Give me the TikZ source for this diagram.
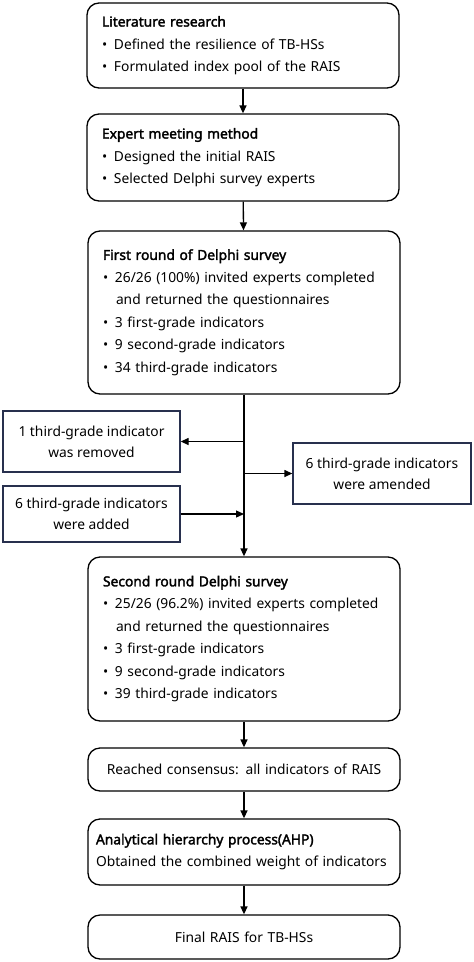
\documentclass[tikz,border=0pt]{standalone}
\usepackage{fontspec}
\setmainfont{Noto Sans}[AutoFakeBold=2.2]
\usetikzlibrary{arrows.meta}

\definecolor{sidenavy}{RGB}{40,48,78}
\newcommand{\bul}{\makebox[12pt][l]{\textbullet}}
\newcommand{\cont}{\hspace*{13pt}}

\begin{document}
\begin{tikzpicture}[x=1pt, y=-1pt,
    every node/.style={font=\fontsize{13.8}{22.5}\selectfont},
    mainbox/.style={draw, line width=1.3pt, rounded corners=12pt,
      text width=282pt, inner xsep=15pt, inner ysep=0pt, align=left},
    flatbox/.style={mainbox, align=center},
    sidebox/.style={draw=sidenavy, line width=1.3pt, align=center,
      minimum width=177pt, inner sep=0pt,
      font=\fontsize{13.8}{21}\selectfont},
    flow/.style={line width=1.3pt, -{Triangle[length=8pt, width=7pt]}}]
  \useasboundingbox (0, 0) rectangle (474, 962);

  % Main steps
  \node[mainbox, minimum height=85pt] (lit) at (243, 45.5)
    {\textbf{Literature research}\\
     \bul Defined the resilience of TB-HSs\\
     \bul Formulated index pool of the RAIS};
  \node[mainbox, minimum height=87pt] (meet) at (243, 157.5)
    {\textbf{Expert meeting method}\\
     \bul Designed the initial RAIS\\
     \bul Selected Delphi survey experts};
  \node[mainbox, minimum height=163pt] (rnd1) at (244, 312.5)
    {\textbf{First round of Delphi survey}\\
     \bul 26/26 (100\%) invited experts completed\\
     \cont and returned the questionnaires\\
     \bul 3 first-grade indicators\\
     \bul 9 second-grade indicators\\
     \bul 34 third-grade indicators};
  \node[mainbox, minimum height=164pt] (rnd2) at (244, 639)
    {\textbf{Second round Delphi survey}\\
     \bul 25/26 (96.2\%) invited experts completed\\
     \cont and returned the questionnaires\\
     \bul 3 first-grade indicators\\
     \bul 9 second-grade indicators\\
     \bul 39 third-grade indicators};
  \node[flatbox, minimum height=43pt] (cons) at (244, 769.5)
    {Reached consensus: all indicators of RAIS};
  \node[mainbox, minimum height=66pt, text width=296pt, inner xsep=8pt] (ahp) at (244, 852)
    {\textbf{Analytical hierarchy process(AHP)}\\
     \mbox{Obtained the combined weight of indicators}};
  \node[flatbox, minimum height=44pt] (final) at (244, 937)
    {Final RAIS for TB-HSs};

  % Changes between the rounds
  \node[sidebox, minimum height=61pt] (removed) at (91.5, 441.5)
    {1 third-grade indicator\\was removed};
  \node[sidebox, minimum height=56pt] (added) at (91.5, 514)
    {6 third-grade indicators\\were added};
  \node[sidebox, minimum height=61pt, minimum width=178pt] (amended) at (382, 473.5)
    {6 third-grade indicators\\were amended};

  % Arrows
  \draw[flow] (lit) -- (meet);
  \draw[flow] (meet) -- (rnd1);
  \draw[flow] (rnd1) -- (rnd2);
  \draw[flow] (rnd1.south |- removed.east) -- (removed.east);
  \draw[flow] (rnd1.south |- amended.west) -- (amended.west);
  \draw[flow] (added.east) -- (rnd1.south |- added.east);
  \draw[flow] (rnd2) -- (cons);
  \draw[flow] (cons) -- (ahp);
  \draw[flow] (ahp) -- (final);
\end{tikzpicture}
\end{document}
